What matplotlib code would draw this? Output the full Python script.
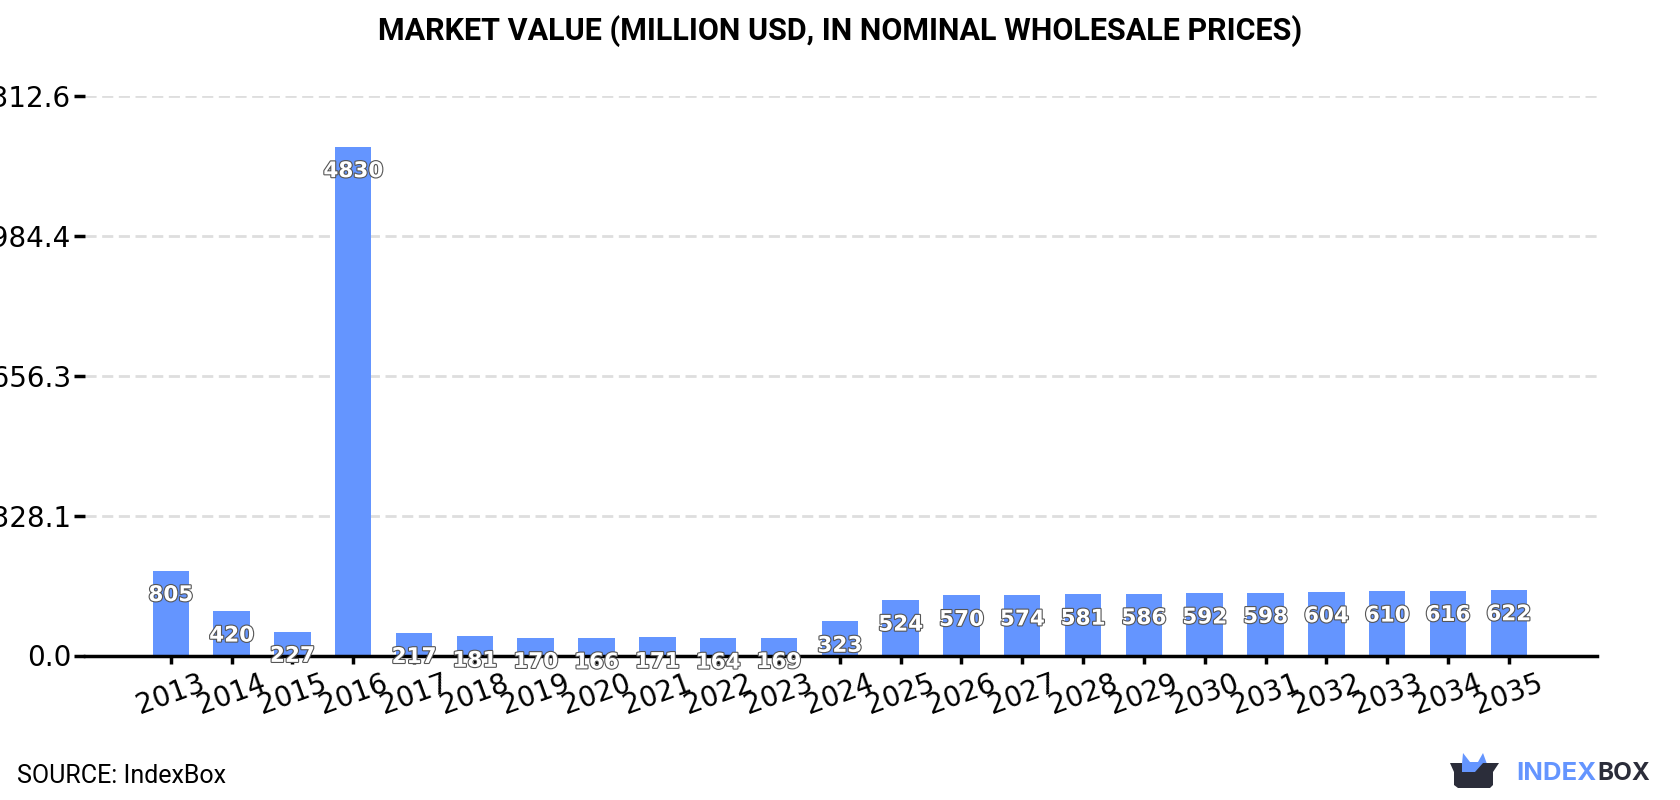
import matplotlib
matplotlib.use('Agg')
import matplotlib.pyplot as plt
import matplotlib.patheffects as pe
from matplotlib.patches import Polygon

years = [2013, 2014, 2015, 2016, 2017, 2018, 2019, 2020, 2021, 2022, 2023, 2024,
         2025, 2026, 2027, 2028, 2029, 2030, 2031, 2032, 2033, 2034, 2035]
values = [805, 420, 227, 4830, 217, 181, 170, 166, 171, 164, 169, 323,
          524, 570, 574, 581, 586, 592, 598, 604, 610, 616, 622]
yticks = [0.0, 1328.1, 2656.3, 3984.4, 5312.6]

W, H = 1680, 800
BLUE = '#6495ff'
DARK = '#2b2d3a'

fig = plt.figure(figsize=(W / 100, H / 100), dpi=100, facecolor='white')
ax = fig.add_axes([85 / W, 1 - 655.5 / H, (1597 - 85) / W, 559.5 / H])

ax.bar(years, values, width=0.6, color=BLUE, zorder=2)
ax.set_xlim(2013 - 1.41, 2035 + 1.45)
ax.set_ylim(0, yticks[-1])

ax.set_yticks(yticks)
ax.set_yticklabels(['%.1f' % t for t in yticks])
ax.set_xticks(years)
ax.set_xticklabels(years, rotation=20)
ax.tick_params(axis='y', labelsize=20, length=8, width=2.5, pad=2)
ax.tick_params(axis='x', labelsize=20, length=6, width=2.5, pad=4)
ax.grid(axis='y', color='#dedede', linestyle=(0, (4, 2)), linewidth=2)
ax.set_axisbelow(True)

for side in ['top', 'left', 'right']:
    ax.spines[side].set_visible(False)
ax.spines['bottom'].set_linewidth(2.5)

# value labels sit a fixed distance below each bar top
for x, v in zip(years, values):
    ax.annotate(str(v), (x, v), xytext=(0, -17.5), textcoords='offset points',
                ha='center', va='center', fontsize=15.5, fontweight='bold',
                color='white', zorder=5, annotation_clip=False,
                path_effects=[pe.withStroke(linewidth=1.6, foreground='#555555')])

fig.text(840 / W, 1 - 31 / H, 'MARKET VALUE (MILLION USD, IN NOMINAL WHOLESALE PRICES)',
         family='Roboto', fontweight='bold', fontsize=22, ha='center', va='center', color='black')
fig.text(17 / W, 1 - 776 / H, 'SOURCE: IndexBox', family='Roboto', fontsize=18,
         ha='left', va='center', color='black')

# logo, drawn in pixel coordinates on a full-figure overlay
over = fig.add_axes([0, 0, 1, 1])
over.set_xlim(0, W)
over.set_ylim(H, 0)
over.axis('off')
over.patch.set_alpha(0)
ears = [(1462, 764), (1463, 753), (1470, 762), (1478, 762), (1483, 753), (1487, 764),
        (1475, 773), (1462, 773)]
box = [(1450, 763), (1462, 763), (1462, 772), (1475, 772), (1483, 763), (1499, 763),
       (1493, 772), (1493, 785), (1490, 788), (1458, 788), (1454, 785), (1454, 772)]
over.add_patch(Polygon(ears, closed=True, color=BLUE, lw=0))
over.add_patch(Polygon(box, closed=True, color=DARK, lw=0))
over.text(1516, 773, 'INDEX', family='Inter', fontweight='bold', fontsize=18.5,
          color=BLUE, ha='left', va='center')
over.text(1597, 773, 'BOX', family='Inter', fontweight='bold', fontsize=17.5,
          color=DARK, ha='left', va='center')

fig.savefig('out.png', dpi=100, facecolor='white')
